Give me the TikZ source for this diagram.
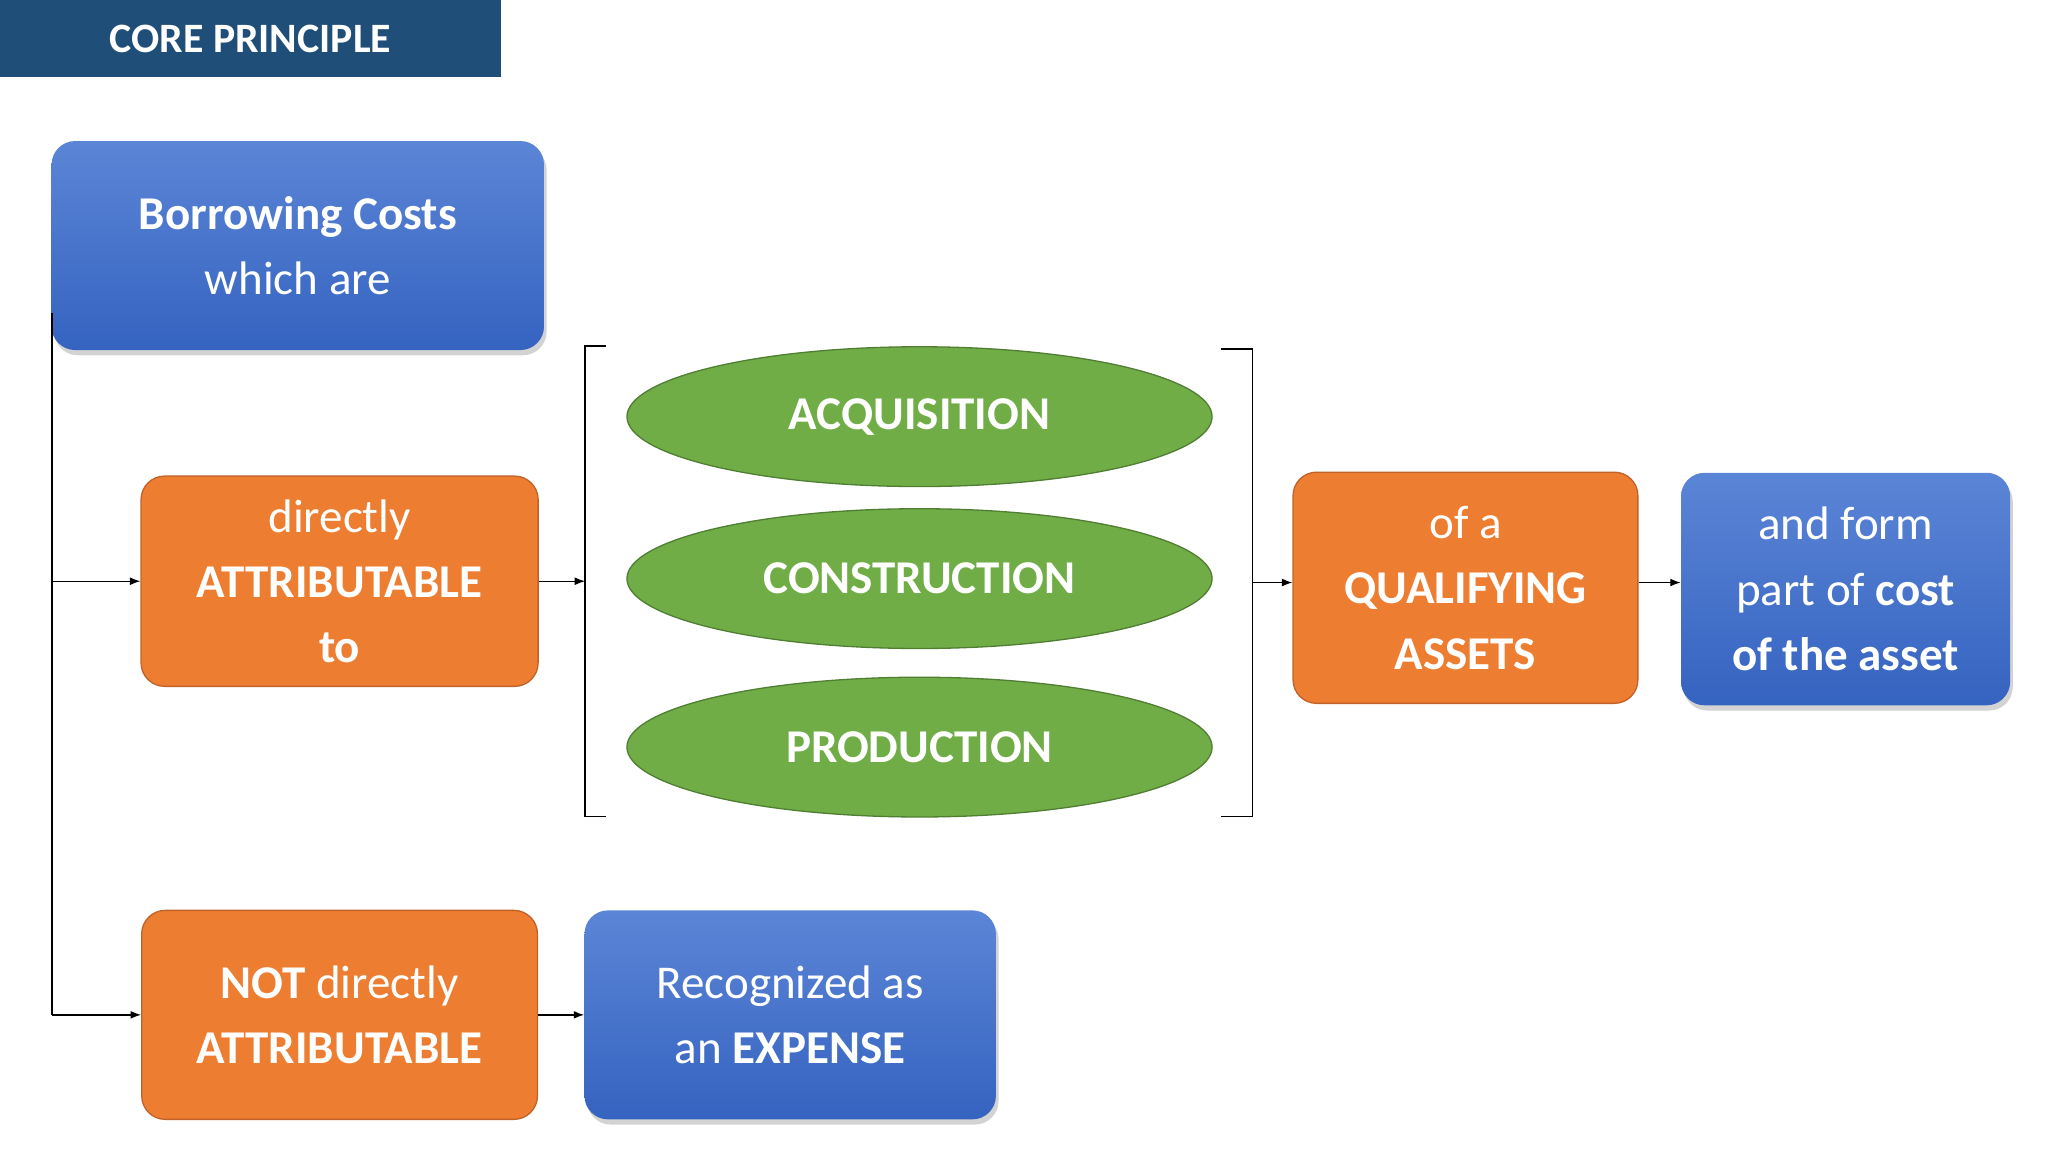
\documentclass[tikz,border=0pt]{standalone}
\usepackage{fontspec}
\setmainfont{Carlito}
\usetikzlibrary{shadows,arrows.meta,shapes.geometric}
\definecolor{hdr}{HTML}{1F4E79}
\definecolor{blu}{HTML}{4472C4}
\definecolor{bluT}{HTML}{5B85D6}
\definecolor{bluB}{HTML}{3563C0}
\definecolor{org}{HTML}{ED7D31}
\definecolor{orgD}{HTML}{C0622A}
\definecolor{grn}{HTML}{70AD47}
\definecolor{grnD}{HTML}{507E32}
\begin{document}
\begin{tikzpicture}[x=1pt,y=-1pt,
  txt/.style={font=\fontsize{36}{50}\selectfont, text=white, align=center},
  bbox/.style={txt, rounded corners=18pt, top color=bluT, bottom color=bluB, draw=none, drop shadow={shadow xshift=2pt,shadow yshift=-4pt,opacity=0.35}},
  obox/.style={txt, rounded corners=18pt, fill=org, draw=orgD, line width=1pt},
  ell/.style={txt, ellipse, fill=grn, draw=grnD, line width=1pt, minimum width=448pt, minimum height=107pt, inner sep=0pt, font=\fontsize{36}{44}\selectfont\bfseries},
  arr/.style={-{Latex[length=8pt,width=6pt]}, line width=1pt},
  ln/.style={line width=1.2pt}]
\useasboundingbox (0,0) rectangle (1568,882);
\node[fill=hdr, minimum width=383pt, minimum height=59pt, anchor=north west, inner sep=0pt, txt, font=\fontsize{32}{36}\selectfont\bfseries] (hdr) at (0,0) {CORE PRINCIPLE};
\node[bbox, minimum width=377pt, minimum height=160pt] (bc) at (228,188) {\textbf{Borrowing Costs}\\which are};
\node[obox, minimum width=304pt, minimum height=161pt] (da) at (260,445) {directly\\\textbf{ATTRIBUTABLE}\\\textbf{to}};
\node[ell] (acq) at (704,319) {ACQUISITION};
\node[ell] (con) at (704,443) {CONSTRUCTION};
\node[ell] (pro) at (704,572) {PRODUCTION};
\node[obox, minimum width=264pt, minimum height=177pt] (qa) at (1122,450) {of a\\\textbf{QUALIFYING}\\\textbf{ASSETS}};
\node[bbox, minimum width=252pt, minimum height=178pt] (fp) at (1413,451) {and form\\part of \textbf{cost}\\\textbf{of the asset}};
\node[obox, minimum width=303pt, minimum height=160pt] (nd) at (260,777) {\textbf{NOT} directly\\\textbf{ATTRIBUTABLE}};
\node[bbox, minimum width=315pt, minimum height=160pt] (ex) at (605,777) {Recognized as\\an \textbf{EXPENSE}};
% brackets
\coordinate (lb) at (448,445);
\coordinate (rb) at (959,446);
\draw[ln] (464,265) -- (448,265) -- (448,625) -- (464,625);
\draw[ln] (935,267) -- (959,267) -- (959,625) -- (935,625);
% connectors
\coordinate (t) at (40,240);
\coordinate (m) at (40,445);
\coordinate (b) at (40,777);
\draw[ln] (t) -- (b);
\draw[arr] (m) -- (da.west);
\draw[arr] (b) -- (nd.west);
\draw[arr] (da.east) -- (lb);
\draw[arr] (rb) -- (qa.west |- rb);
\draw[arr] (qa.east |- rb) -- (fp.west |- rb);
\draw[arr] (nd.east) -- (ex.west);
\end{tikzpicture}
\end{document}
